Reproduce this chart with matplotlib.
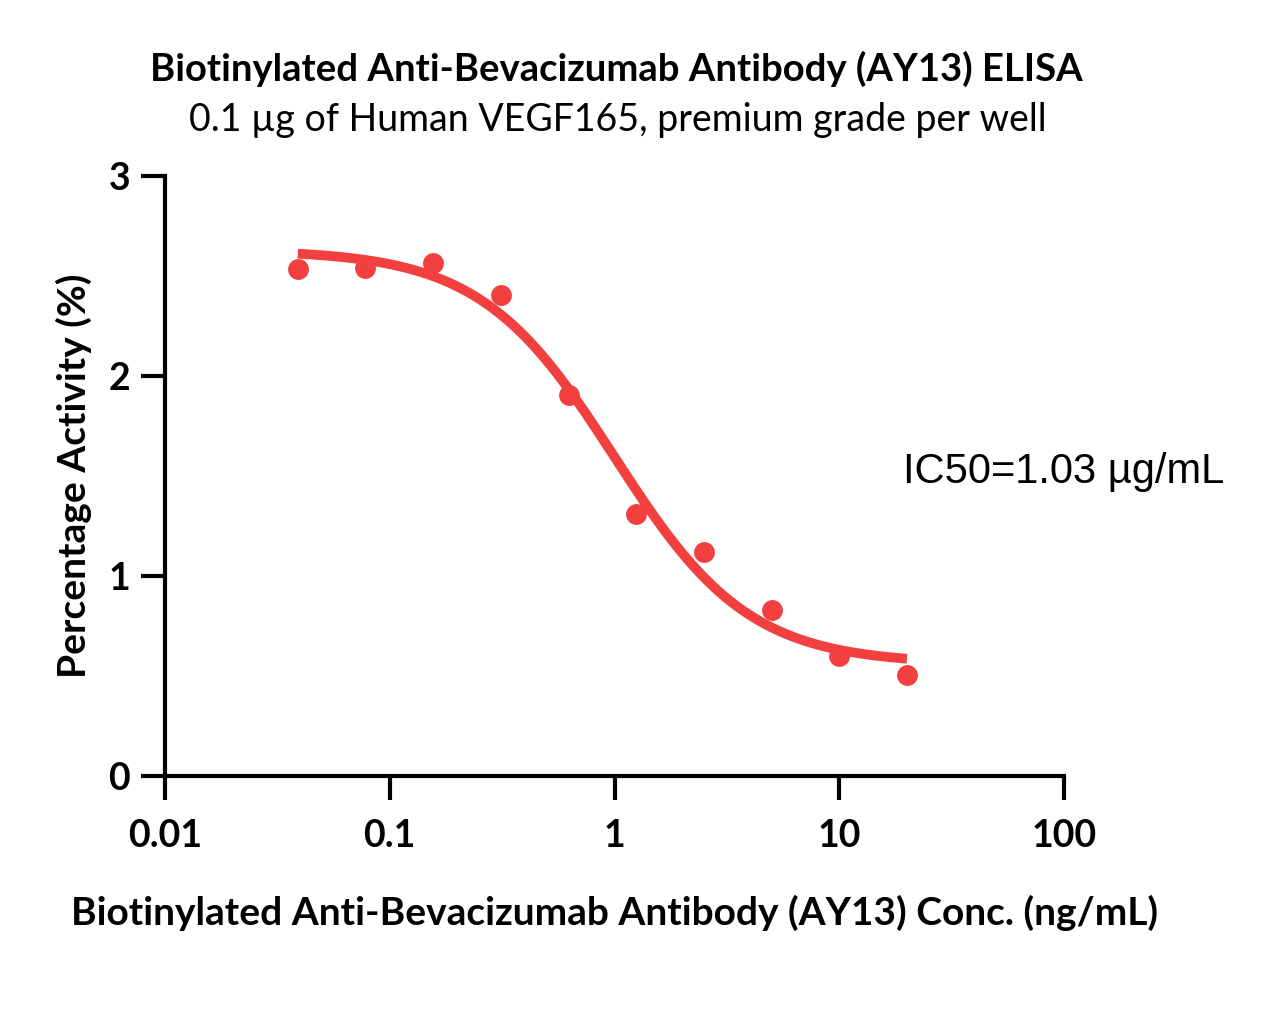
import numpy as np
import matplotlib as mpl
mpl.use('Agg')
import matplotlib.pyplot as plt

conc = [0.039, 0.078, 0.156, 0.3125, 0.625, 1.25, 2.5, 5, 10, 20]
activity = [2.535, 2.54, 2.565, 2.405, 1.905, 1.31, 1.12, 0.83, 0.60, 0.505]

# 4PL fit parameters
top, bottom, ic50, hill = 2.63, 0.56, 1.0, 1.45

red = '#F23F3F'
font = ['Lato', 'DejaVu Sans']

fig = plt.figure(figsize=(12.69, 10.32), dpi=100)
ax = fig.add_axes([0.130, 0.248, 0.7085, 0.5815])

xs = np.logspace(np.log10(conc[0]), np.log10(conc[-1]), 300)
ys = bottom + (top - bottom) / (1 + (xs / ic50) ** hill)
ax.plot(xs, ys, color=red, lw=7, solid_capstyle='butt')
ax.plot(conc, activity, 'o', color=red, ms=15, mec='none')

ax.set_xscale('log')
ax.set_xlim(0.01, 100)
ax.set_ylim(0, 3)
ax.set_xticks([0.01, 0.1, 1, 10, 100])
ax.set_xticklabels(['0.01', '0.1', '1', '10', '100'])
ax.set_yticks([0, 1, 2, 3])
ax.set_yticklabels(['0', '1', '2', '3'])
ax.xaxis.set_minor_locator(mpl.ticker.NullLocator())

for s in ['top', 'right']:
    ax.spines[s].set_visible(False)
for s in ['left', 'bottom']:
    ax.spines[s].set_linewidth(3)
ax.tick_params(width=3, length=17, direction='out', pad=8)
for lab in ax.get_xticklabels() + ax.get_yticklabels():
    lab.set_fontfamily(font)
    lab.set_fontweight('bold')
    lab.set_fontsize(27)
ax.tick_params(axis='x', pad=14)

ax.set_xlabel('Biotinylated Anti-Bevacizumab Antibody (AY13) Conc. (ng/mL)',
              fontfamily=font, fontweight='bold', fontsize=28, labelpad=30)
ax.set_ylabel('Percentage Activity (%)', fontfamily=font, fontweight='bold',
              fontsize=28, labelpad=12)

fig.text(0.486, 0.933, 'Biotinylated Anti-Bevacizumab Antibody (AY13) ELISA',
         ha='center', va='center', fontfamily=font, fontweight='bold', fontsize=27.5)
fig.text(0.487, 0.884, '0.1 µg of Human VEGF165, premium grade per well',
         ha='center', va='center', fontfamily=font, fontsize=27)
fig.text(0.8385, 0.543, 'IC50=1.03 µg/mL',
         ha='center', va='center', fontfamily=['Liberation Sans', 'DejaVu Sans'],
         fontsize=30)

fig.savefig('out.png', dpi=100)
